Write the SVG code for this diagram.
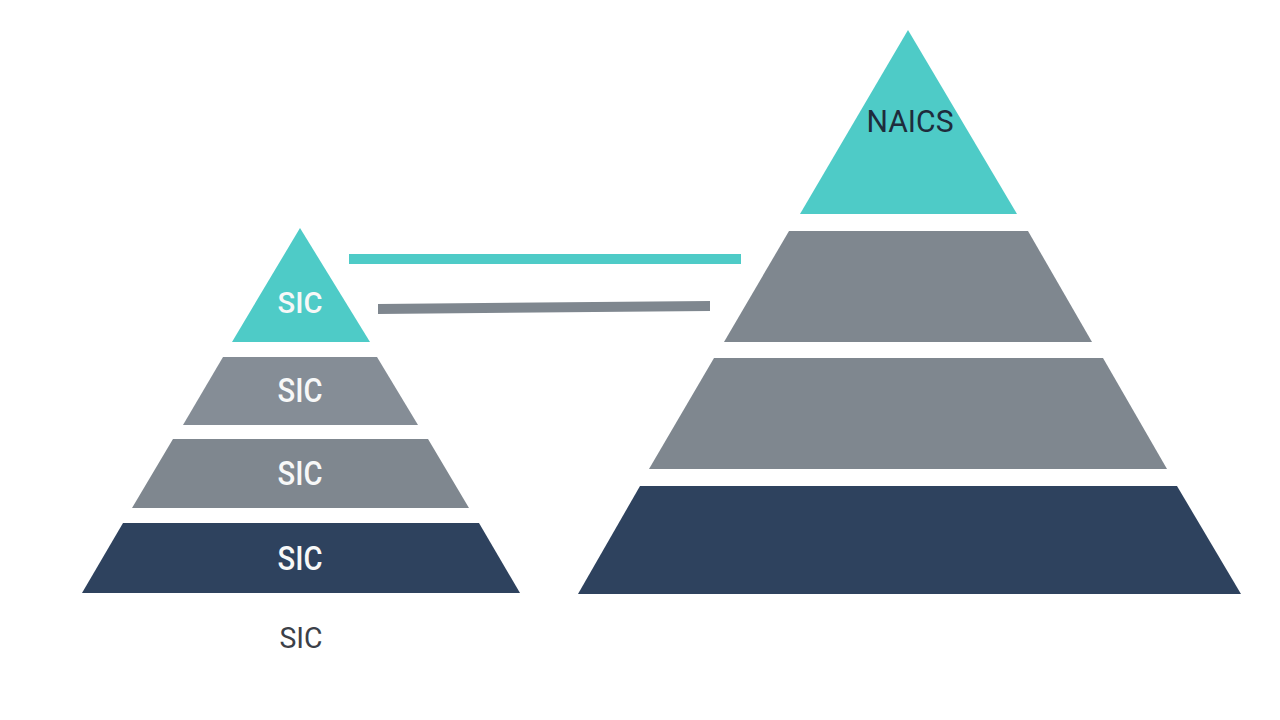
<svg xmlns="http://www.w3.org/2000/svg" width="1280" height="720" viewBox="0 0 1280 720">
<style>
.teal{fill:#4ecbc7}
.gray{fill:#7f878f}
.navy{fill:#2e425e}
.lbl{font-family:Roboto,"Liberation Sans",sans-serif;font-weight:500;fill:#f7f8f8;text-anchor:middle}
.dark{font-family:Roboto,"Liberation Sans",sans-serif;font-weight:400;text-anchor:middle}
</style>
<rect width="1280" height="720" fill="#ffffff"/>
<g id="sic-pyramid">
  <g id="sic-1">
    <polygon class="teal" points="300,228 370,342 232,342"/>
    <text class="lbl" x="300" y="313" font-size="30" textLength="45" lengthAdjust="spacingAndGlyphs">SIC</text>
  </g>
  <g id="sic-2">
    <polygon class="gray" points="223,357 377,357 418,425 183,425" style="fill:#858d96"/>
    <text class="lbl" x="300" y="402" font-size="34" textLength="45" lengthAdjust="spacingAndGlyphs">SIC</text>
  </g>
  <g id="sic-3">
    <polygon class="gray" points="173,439 428,439 469,508 132,508"/>
    <text class="lbl" x="300" y="485" font-size="34" textLength="45" lengthAdjust="spacingAndGlyphs">SIC</text>
  </g>
  <g id="sic-4">
    <polygon class="navy" points="123,523 479,523 520,593 82,593"/>
    <text class="lbl" x="300" y="570" font-size="34" textLength="45" lengthAdjust="spacingAndGlyphs">SIC</text>
  </g>
  <g id="sic-5">
    <text class="dark" x="301" y="648" font-size="29" fill="#3b4048" textLength="43" lengthAdjust="spacingAndGlyphs">SIC</text>
  </g>
</g>
<g id="naics-pyramid">
  <g id="naics-1">
    <polygon class="teal" points="908,30 1017,214 800,214"/>
    <text class="dark" x="910" y="132" font-size="32" fill="#1e2c3c" textLength="87" lengthAdjust="spacingAndGlyphs">NAICS</text>
  </g>
  <g id="naics-2">
    <polygon class="gray" points="789,231 1028,231 1092,342 724,342"/>
  </g>
  <g id="naics-3">
    <polygon class="gray" points="714,358 1103,358 1167,469 649,469"/>
  </g>
  <g id="naics-4">
    <polygon class="navy" points="640,486 1177,486 1241,594 578,594"/>
  </g>
</g>
<g id="connectors">
  <polygon class="teal" points="349,254 741,254 741,264 349,264"/>
  <polygon class="gray" points="378,304 710,301 710,311 378,314"/>
</g>
</svg>
